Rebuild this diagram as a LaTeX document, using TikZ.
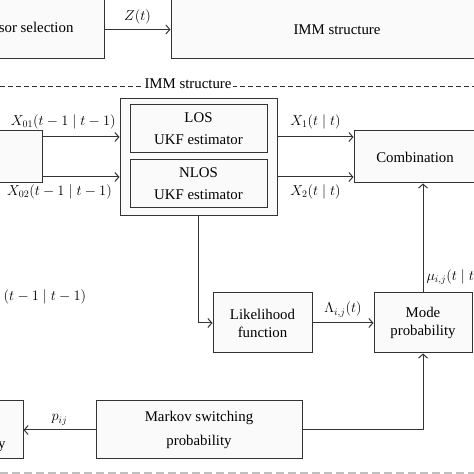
\documentclass[tikz,border=0pt]{standalone}
\usepackage{fontspec}
\setmainfont{Liberation Serif}[Scale=1.06]
\usetikzlibrary{arrows.meta, positioning}

\begin{document}
\begin{tikzpicture}[
    x=1pt, y=1pt,
    font=\fontsize{14}{19}\selectfont,
    block/.style={rectangle, draw=black!80, fill=black!2, line width=1pt, align=center, inner sep=0pt},
    line/.style={draw=black!80, line width=1pt, -{Straight Barb[length=4pt,width=9pt]}},
    frame/.style={draw=black!80, dash pattern=on 5pt off 3pt, line width=1pt}
]
    \useasboundingbox (0,0) rectangle (474,474);
    \clip (0,0) rectangle (474,474);

    % top row
    \node [block, minimum width=158pt, minimum height=64pt] (sensor) at (25,447) {Sensor selection};
    \node [block, minimum width=332pt, minimum height=59pt] (immtop) at (337,444.5) {IMM structure};
    \path [line] (sensor.east |- immtop.west) -- node [above=1pt] {$Z(t)$} (immtop.west);

    % dashed frame of the IMM structure
    \coordinate (fl) at (0,387);
    \coordinate (fr) at (474,387);
    \path [frame] (fl) -- (fr);
    \node [fill=white, inner sep=2pt, anchor=base] (immlabel) at (188,385) {IMM structure};

    % estimators
    \node [block, minimum width=102pt, minimum height=52pt] (mixer) at (-9,317) {};
    \node [block, minimum width=157pt, minimum height=117pt] (ukf) at (198.5,317) {};
    \node [block, minimum width=137pt, minimum height=48pt, font=\fontsize{14}{22}\selectfont] (los) at (198.5,345) {LOS\\UKF estimator};
    \node [block, minimum width=137pt, minimum height=48pt, font=\fontsize{14}{22}\selectfont] (nlos) at (198.5,290) {NLOS\\UKF estimator};
    \node [block, minimum width=122pt, minimum height=52pt] (comb) at (415,317) {Combination};

    \path [line] ([yshift=20pt]mixer.east) -- node [above=4pt, pos=0.27] {$X_{01}(t-1\mid t-1)$} ([yshift=20pt]ukf.west);
    \path [line] ([yshift=-20pt]mixer.east) -- node [below=4pt, pos=0.22] {$X_{02}(t-1\mid t-1)$} ([yshift=-20pt]ukf.west);
    \path [line] ([yshift=20pt]ukf.east) -- node [above=4pt] {$X_1(t\mid t)$} ([yshift=20pt]comb.west);
    \path [line] ([yshift=-20pt]ukf.east) -- node [below=4pt] {$X_2(t\mid t)$} ([yshift=-20pt]comb.west);

    \node [anchor=west] (mixlabel) at (0,177) {$(t-1\mid t-1)$};

    % likelihood and mode probability
    \node [block, minimum width=99pt, minimum height=60pt, font=\fontsize{14}{18}\selectfont] (lik) at (262.5,151) {Likelihood\\function};
    \node [block, minimum width=98pt, minimum height=60pt, font=\fontsize{14}{18}\selectfont] (mode) at (423,151) {Mode\\probability};

    \path [line] (ukf.south) |- (lik.west);
    \path [line] (lik) -- node [above=2pt] {$\Lambda_{i,j}(t)$} (mode);
    \path [line] (mode.north) -- node [pos=0.14, anchor=west, inner sep=3pt] {$\mu_{i,j}(t\mid t)$} (mode.north |- comb.south);

    % markov switching
    \node [block, minimum width=206pt, minimum height=58pt, font=\fontsize{14}{24}\selectfont] (markov) at (199,44) {Markov switching\\probability};
    \node [block, minimum width=100pt, minimum height=58pt, font=\fontsize{14}{24}\selectfont] (mixprob) at (-27,44) {\strut\\probability};

    \path [line] (markov) -- node [above=1pt] {$p_{ij}$} (mixprob);
    \path [line] (markov.east) -| (mode.south);

    % lower frame edge
    \coordinate (bl) at (0,1);
    \coordinate (br) at (474,1);
    \draw [black!25, line width=1.5pt, dash pattern=on 8pt off 4pt] (bl) -- (br);
\end{tikzpicture}
\end{document}
